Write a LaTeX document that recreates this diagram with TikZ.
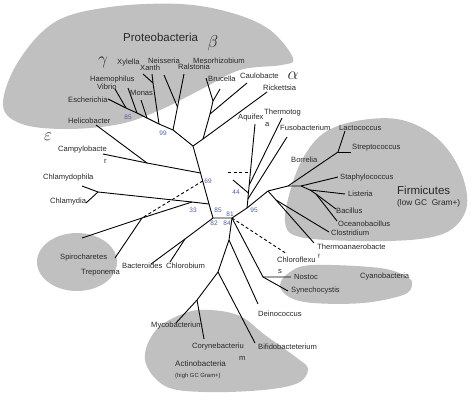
\documentclass[tikz,border=0pt]{standalone}
\usepackage{fontspec}
\setmainfont{Liberation Sans}
\definecolor{blobc}{RGB}{192,192,192}
\definecolor{txt}{RGB}{40,40,40}
\definecolor{bsc}{RGB}{75,95,165}
\tikzset{
 br/.style={draw=black, line width=0.9pt},
 dbr/.style={br, dash pattern=on 3pt off 2.5pt},
 lbl/.style={anchor=west, inner sep=0pt, font=\fontsize{7.6}{8}\selectfont, text=txt},
 sml/.style={anchor=west, inner sep=0pt, font=\fontsize{6}{7}\selectfont, text=txt},
 bs/.style={inner sep=0pt, font=\fontsize{6.5}{7}\selectfont, text=bsc},
 greek/.style={inner sep=0pt, font=\fontsize{17}{17}\selectfont, text=txt},
 big/.style={anchor=west, inner sep=0pt, font=\fontsize{11.5}{12}\selectfont, text=txt},
 blobfill/.style={fill=blobc, draw=none}
}
\begin{document}
\begin{tikzpicture}[x=1pt,y=-1pt]
\useasboundingbox (0,0) rectangle (474,410);
% ---------- blobs ----------
\fill[blobfill] plot[smooth cycle, tension=0.6] coordinates {(3,105) (18,62) (55,22) (110,7) (180,4) (232,13) (270,30) (293,58) (282,65) (240,70) (200,90) (160,110) (120,124) (67,129) (22,124)};
\fill[blobfill] plot[smooth cycle, tension=0.6] coordinates {(285,222) (292,185) (306,153) (327,131) (362,120) (402,120) (437,138) (460,170) (467,205) (452,229) (420,239) (360,241) (300,237)};
\fill[blobfill] (77,262) ellipse [x radius=40, y radius=29];
\fill[blobfill] plot[smooth cycle, tension=0.6] coordinates {(280,285) (290,272) (313,265) (380,268) (407,277) (412,285) (403,295) (363,303) (313,303) (289,297)};
\fill[blobfill] plot[smooth cycle, tension=0.6] coordinates {(145,360) (156,330) (185,313) (210,310) (240,316) (265,335) (297,358) (308,369) (298,383) (263,390) (205,392) (165,386)};
% ---------- coordinates ----------
\coordinate (Esc) at (108,99);
\coordinate (g1) at (126,108);
\coordinate (Vib) at (115,89);
\coordinate (g2) at (137,113);
\coordinate (Hae) at (128,88);
\coordinate (g3) at (147,118);
\coordinate (Mon) at (141,100);
\coordinate (g4) at (159,124);
\coordinate (Xan) at (152,74);
\coordinate (xn) at (153,83);
\coordinate (Xyl) at (143,74);
\coordinate (Q) at (173,130);
\coordinate (Ral) at (184,74);
\coordinate (nb) at (177.5,107);
\coordinate (Nei) at (164,75);
\coordinate (P) at (193,146);
\coordinate (Ric) at (267,92);
\coordinate (a1) at (203,139);
\coordinate (a2) at (210,114);
\coordinate (Cau) at (247,83);
\coordinate (a3) at (213,101);
\coordinate (Bru) at (206,78);
\coordinate (Mes) at (220,89);
\coordinate (K) at (200.5,173);
\coordinate (J) at (202.7,181);
\coordinate (Ch) at (209,204);
\coordinate (A) at (213,218);
\coordinate (H) at (147,163);
\coordinate (Hel) at (96,125);
\coordinate (Cam) at (103,154);
\coordinate (Sp) at (192,202);
\coordinate (Cn) at (98,192);
\coordinate (Chp) at (82,186);
\coordinate (Chl) at (86,203);
\coordinate (S) at (142,218);
\coordinate (Spi) at (82,238);
\coordinate (Tre) at (115,258);
\coordinate (Bc) at (185,239);
\coordinate (Bac) at (151,264);
\coordinate (Chb) at (170,262);
\coordinate (B) at (232,218);
\coordinate (C) at (247,208);
\coordinate (Aq) at (255,124);
\coordinate (td) at (250.4,172);
\coordinate (tdl) at (228,172);
\coordinate (tm) at (249.2,185);
\coordinate (Thm) at (282,118);
\coordinate (n44) at (248.4,193);
\coordinate (l44) at (233,180);
\coordinate (fu) at (247.9,199);
\coordinate (Fus) at (287,137);
\coordinate (F0) at (268,191);
\coordinate (F1) at (288,186);
\coordinate (L) at (338,152);
\coordinate (Lac) at (345,131);
\coordinate (Str) at (351,152);
\coordinate (F2) at (301,186);
\coordinate (Sta) at (338,177);
\coordinate (F3) at (310,190);
\coordinate (Lis) at (345,194);
\coordinate (O1) at (316,194);
\coordinate (Bcl) at (336,209);
\coordinate (Oce) at (337,221);
\coordinate (T) at (276,200);
\coordinate (Tha) at (314,243);
\coordinate (Clo) at (329,232);
\coordinate (D1) at (229,240);
\coordinate (Ac) at (218,272);
\coordinate (M) at (197,300);
\coordinate (Myc) at (176,323);
\coordinate (Cor) at (204,339);
\coordinate (Bif) at (255,343);
\coordinate (Dei) at (258,304);
\coordinate (Cy) at (263,277);
\coordinate (Nos) at (291,277);
\coordinate (Syn) at (288,291);
\coordinate (Chf) at (287,254);
% ---------- branches ----------
\draw[br] (Esc) -- (g1) -- (g2) -- (g3) -- (g4) -- (Q) -- (P);
\draw[br] (Vib) -- (g1);
\draw[br] (Hae) -- (g2);
\draw[br] (Mon) -- (g3);
\draw[br] (Xan) -- (xn) -- (g4);
\draw[br] (Xyl) -- (xn);
\draw[br] (Ral) -- (nb) -- (Q);
\draw[br] (Nei) -- (nb);
\draw[br] (P) -- (a1) -- (Ric);
\draw[br] (a1) -- (a2) -- (a3) -- (Bru);
\draw[br] (a2) -- (Cau);
\draw[br] (a3) -- (Mes);
\draw[br] (P) -- (K) -- (J) -- (Ch) -- (A);
\draw[br] (Hel) -- (H) -- (K);
\draw[br] (Cam) -- (H);
\draw[br] (Ch) -- (Sp) -- (Cn) -- (Chp);
\draw[br] (Cn) -- (Chl);
\draw[br] (Sp) -- (S) -- (Spi);
\draw[br] (S) -- (Tre);
\draw[dbr] (J) -- (S);
\draw[br] (A) -- (Bc) -- (Bac);
\draw[br] (Bc) -- (Chb);
\draw[br] (A) -- (B) -- (C) -- (fu) -- (n44) -- (tm) -- (td) -- (Aq);
\draw[br] (Thm) -- (tm);
\draw[br] (Fus) -- (fu);
\draw[br] (l44) -- (n44);
\draw[dbr] (tdl) -- (td);
\draw[br] (C) -- (F0) -- (F1) -- (F2) -- (Sta);
\draw[br] (F1) -- (L) -- (Lac);
\draw[br] (L) -- (Str);
\draw[br] (F2) -- (F3) -- (Lis);
\draw[br] (F3) -- (O1) -- (Bcl);
\draw[br] (O1) -- (Oce);
\draw[br] (F0) -- (T) -- (Tha);
\draw[br] (T) -- (Clo);
\draw[br] (B) -- (D1) -- (Ac) -- (M) -- (Myc);
\draw[br] (M) -- (Cor);
\draw[br] (Ac) -- (Bif);
\draw[br] (D1) -- (Dei);
\draw[br] (B) -- (Cy) -- (Nos);
\draw[br] (Cy) -- (Syn);
\draw[dbr] (B) -- (Chf);
% ---------- group labels ----------
\node[big] (tProt) at (123,37) {Proteobacteria};
\node[greek] (tbeta) at (213,43) {$\beta$};
\node[greek] (tgamma) at (103,62) {$\gamma$};
\node[greek] (talpha) at (293,76) {$\alpha$};
\node[greek] (teps) at (48,137) {$\varepsilon$};
\node[big] (tFirm) at (397,190) {Firmicutes};
\node[anchor=west, inner sep=0pt, font=\fontsize{8.3}{9}\selectfont, text=txt] (tFirm2) at (397,203) {(low GC\ \ Gram+)};
\node[anchor=west, inner sep=0pt, font=\fontsize{8}{9}\selectfont, text=txt] (tAct) at (175,364) {Actinobacteria};
\node[anchor=west, inner sep=0pt, font=\fontsize{5.9}{7}\selectfont, text=txt] (tAct2) at (175,376) {(high GC Gram+)};
% ---------- leaf labels ----------
\node[lbl] (tXyl) at (117,63) {Xylella};
\node[lbl] (tXan) at (140,68) {Xanth};
\node[lbl] (tNei) at (148,61) {Neisseria};
\node[lbl] (tRal) at (178,67) {Ralstonia};
\node[lbl] (tMes) at (193,61) {Mesorhizobium};
\node[lbl] (tHae) at (90,80) {Haemophilus};
\node[lbl] (tVib) at (97,87) {Vibrio};
\node[lbl] (tMon) at (130,93) {Monas};
\node[lbl] (tEsc) at (68,100) {Escherichia};
\node[lbl] (tHel) at (68,121) {Helicobacter};
\node[lbl] (tBru) at (208,79) {Brucella};
\node[lbl] (tCau) at (240,76) {Caulobacte};
\node[lbl] (tRic) at (263,88) {Rickettsia};
\node[lbl] (tCam) at (58,150) {Campylobacte};
\node[lbl] (tCam2) at (104,161) {r};
\node[lbl] (tChp) at (43,178) {Chlamydophila};
\node[lbl] (tChl) at (50,202) {Chlamydia};
\node[lbl] (tAq) at (238,118) {Aquifex};
\node[lbl] (tThm) at (264,113) {Thermotog};
\node[lbl] (tThm2) at (265,124) {a};
\node[lbl] (tFus) at (280,128) {Fusobacterium};
\node[lbl] (tLac) at (339,128) {Lactococcus};
\node[lbl] (tStr) at (352,148) {Streptococcus};
\node[lbl] (tBor) at (291,160) {Borrelia};
\node[lbl] (tSta) at (340,178) {Staphylococcus};
\node[lbl] (tLis) at (348,194) {Listeria};
\node[lbl] (tBcl) at (336,211) {Bacillus};
\node[lbl] (tOce) at (338,224) {Oceanobacillus};
\node[lbl] (tClo) at (331,233) {Clostridium};
\node[lbl] (tTha) at (317,247) {Thermoanaerobacte};
\node[lbl] (tSpi) at (60,258) {Spirocharetes};
\node[lbl] (tTre) at (81,273) {Treponema};
\node[lbl] (tBac) at (122,266) {Bacteroides};
\node[lbl] (tChb) at (166,266) {Chlorobium};
\node[lbl] (tChf) at (277,260) {Chloroflexu};
\node[sml] (tChf2) at (318,256) {f};
\node[lbl] (tChf3) at (278,271) {s};
\node[lbl] (tNos) at (294,277) {Nostoc};
\node[lbl] (tCyan) at (360,277) {Cyanobacteria};
\node[lbl] (tSyn) at (291,291) {Synechocystis};
\node[lbl] (tDei) at (258,314) {Deinococcus};
\node[lbl] (tMyc) at (151,326) {Mycobacterium};
\node[lbl] (tCor) at (192,347) {Corynebacteriu};
\node[lbl] (tCor2) at (239,358) {m};
\node[lbl] (tBif) at (258,347) {Bifidobacteterium};
% ---------- bootstrap values ----------
\node[bs] (b85a) at (128,117) {85};
\node[bs] (b99) at (163,133) {99};
\node[bs] (b69) at (208,181) {69};
\node[bs] (b33) at (193,210) {33};
\node[bs] (b85b) at (218,210) {85};
\node[bs] (b81) at (230,214) {81};
\node[bs] (b82) at (214,223) {82};
\node[bs] (b84) at (227,223) {84};
\node[bs] (b44) at (236,192) {44};
\node[bs] (b95) at (254,210) {95};
\end{tikzpicture}
\end{document}
